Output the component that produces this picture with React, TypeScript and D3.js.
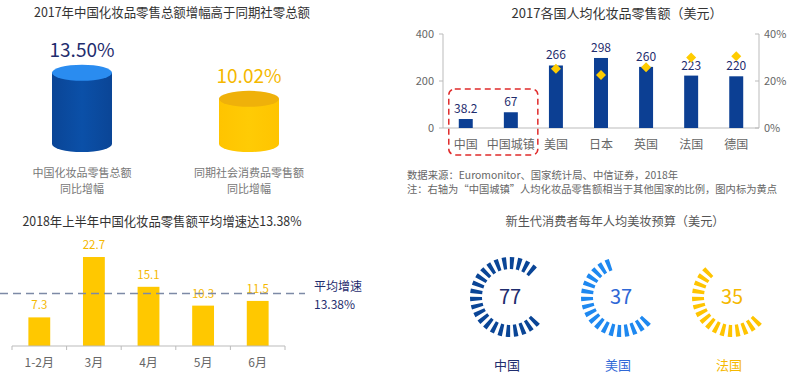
import React from "react";
import * as d3 from "d3";

// panel 1: growth comparison (cylinders)
const growthLabels = [["中国化妆品零售总额", "同比增幅"], ["同期社会消费品零售额", "同比增幅"]];
const growthValues = [13.5, 10.02];

// panel 2: per-capita retail by country
const countries = ["中国", "中国城镇", "美国", "日本", "英国", "法国", "德国"];
const perCapita = [38.2, 67, 266, 298, 260, 223, 220];
const ratioCountries = ["美国", "日本", "英国", "法国", "德国"];
const ratioValues = [0.252, 0.225, 0.258, 0.3, 0.305];
const leftTicks = [0, 200, 400];
const rightTicks = [0, 0.2, 0.4];

// panel 3: monthly growth 2018H1
const months = ["1-2月", "3月", "4月", "5月", "6月"];
const monthGrowth = [7.3, 22.7, 15.1, 10.3, 11.5];
const avgGrowth = 13.38;

// panel 4: beauty budget rings
const budgetCountries = ["中国", "美国", "法国"];
const budgetValues = [77, 37, 35];
const budgetTicks = [23, 18, 16];

const FONT = "'Noto Sans CJK SC', 'Noto Sans', sans-serif";
const NAVY = "#1f2d6e";
const GOLD = "#f5b800";

const Cylinders = () => {
  const x = d3.scalePoint<number>().domain([0, 1]).range([82, 249]);
  const h = d3.scaleLinear().domain([4, 14]).range([0, 75]);
  const baseY = 144;
  const rx = 30;
  const ry = 8;
  const sides = ["url(#blueSide)", "url(#goldSide)"];
  const tops = ["#2a8cf0", "#efb10a"];
  const valColors = [NAVY, GOLD];
  return (
    <g>
      <defs>
        <linearGradient id="blueSide" x1="0" x2="1" y1="0" y2="0">
          <stop offset="0" stopColor="#0a4596" />
          <stop offset="0.5" stopColor="#0b50a8" />
          <stop offset="1" stopColor="#0a4596" />
        </linearGradient>
        <linearGradient id="goldSide" x1="0" x2="1" y1="0" y2="0">
          <stop offset="0" stopColor="#ffc400" />
          <stop offset="0.5" stopColor="#ffcb05" />
          <stop offset="1" stopColor="#ffc400" />
        </linearGradient>
      </defs>
      {growthValues.map((v, i) => {
        const cx = x(i)!;
        const topY = baseY - h(v);
        const side = `M${cx - rx},${topY} L${cx - rx},${baseY} A${rx},${ry} 0 0 0 ${cx + rx},${baseY} L${cx + rx},${topY} Z`;
        return (
          <g key={i}>
            <path d={side} fill={sides[i]} />
            <ellipse cx={cx} cy={topY} rx={rx} ry={ry} fill={tops[i]} />
            <text x={cx} y={topY - ry - 8} textAnchor="middle" fontSize={19} fill={valColors[i]}>
              {v.toFixed(2)}%
            </text>
            <text x={cx} y={177} textAnchor="middle" fontSize={11} fill="#777">
              {growthLabels[i].map((l, j) => (
                <tspan key={j} x={cx} dy={j === 0 ? 0 : 16}>
                  {l}
                </tspan>
              ))}
            </text>
          </g>
        );
      })}
      <text x={172} y={17} textAnchor="middle" fontSize={13} fill="#333" textLength={276} lengthAdjust="spacingAndGlyphs">
        2017年中国化妆品零售总额增幅高于同期社零总额
      </text>
    </g>
  );
};

const PerCapita = () => {
  const x = d3.scaleBand().domain(countries).range([443, 759]).paddingInner(0.69).paddingOuter(0.35);
  const y = d3.scaleLinear().domain([0, 400]).range([128, 34]);
  const y2 = d3.scaleLinear().domain([0, 0.4]).range([128, 34]);
  const diamond = d3.symbol(d3.symbolSquare, 50)()!;
  const boxL = x("中国")! - 10;
  const boxR = x("中国城镇")! + x.bandwidth() + 20;
  return (
    <g>
      <text x={617} y={18} textAnchor="middle" fontSize={13} fill="#333">
        2017各国人均化妆品零售额（美元）
      </text>
      <line x1={443} x2={443} y1={34} y2={128} stroke="#bbb" />
      <line x1={759} x2={759} y1={34} y2={128} stroke="#bbb" />
      <line x1={443} x2={759} y1={128} y2={128} stroke="#bbb" />
      {leftTicks.map((t) => (
        <g key={t}>
          <line x1={439} x2={443} y1={y(t)} y2={y(t)} stroke="#bbb" />
          <text x={434} y={y(t) + 4} textAnchor="end" fontSize={11} fill="#666">
            {t}
          </text>
        </g>
      ))}
      {rightTicks.map((t) => (
        <g key={t}>
          <line x1={755} x2={759} y1={y2(t)} y2={y2(t)} stroke="#bbb" />
          <text x={764} y={y2(t) + 4} fontSize={11} fill="#666">
            {d3.format(".0%")(t)}
          </text>
        </g>
      ))}
      {countries.map((c, i) => {
        const bx = x(c)!;
        const cx = bx + x.bandwidth() / 2;
        return (
          <g key={c}>
            <rect x={bx} y={y(perCapita[i])} width={x.bandwidth()} height={128 - y(perCapita[i])} fill="#0c3f93" />
            <text x={cx} y={y(perCapita[i]) - 6} textAnchor="middle" fontSize={12} fill={NAVY}>
              {perCapita[i]}
            </text>
            <text x={cx} y={149} textAnchor="middle" fontSize={12} fill="#666">
              {c}
            </text>
          </g>
        );
      })}
      {ratioCountries.map((c, i) => (
        <path
          key={c}
          d={diamond}
          transform={`translate(${x(c)! + x.bandwidth() / 2},${y2(ratioValues[i])}) rotate(45)`}
          fill="#ffcc00"
        />
      ))}
      <rect x={boxL} y={89} width={boxR - boxL} height={66} rx={6} fill="none" stroke="#e02b2b" strokeWidth={1.5} strokeDasharray="6,4" />
      <text x={407} y={179} fontSize={10.5} fill="#666" textLength={271} lengthAdjust="spacingAndGlyphs">
        数据来源：Euromonitor、国家统计局、中信证券，2018年
      </text>
      <text x={407} y={193} fontSize={10.5} fill="#666" textLength={370} lengthAdjust="spacingAndGlyphs">
        注：右轴为“中国城镇”人均化妆品零售额相当于其他国家的比例，图内标为黄点
      </text>
    </g>
  );
};

const Monthly = () => {
  const x = d3.scaleBand().domain(months).range([12, 285]).paddingInner(0.6).paddingOuter(0.3);
  const y = d3.scaleLinear().domain([0, 25]).range([346, 248]);
  const edges = d3.range(months.length + 1).map((i) => 12 + (i * (285 - 12)) / months.length);
  return (
    <g>
      <text x={162} y={226} textAnchor="middle" fontSize={13} fill="#333" textLength={279} lengthAdjust="spacingAndGlyphs">
        2018年上半年中国化妆品零售额平均增速达13.38%
      </text>
      {months.map((m, i) => {
        const cx = x(m)! + x.bandwidth() / 2;
        return (
          <g key={m}>
            <rect x={x(m)} y={y(monthGrowth[i])} width={x.bandwidth()} height={346 - y(monthGrowth[i])} fill="#ffc800" />
            <text x={cx} y={y(monthGrowth[i]) - 8} textAnchor="middle" fontSize={11.5} fill={GOLD}>
              {monthGrowth[i]}
            </text>
            <text x={cx} y={367} textAnchor="middle" fontSize={12} fill="#666">
              {m}
            </text>
          </g>
        );
      })}
      <line x1={12} x2={285} y1={346} y2={346} stroke="#bbb" />
      {edges.map((e, i) => (
        <line key={i} x1={e} x2={e} y1={346} y2={350} stroke="#bbb" />
      ))}
      <line x1={0} x2={305} y1={y(avgGrowth)} y2={y(avgGrowth)} stroke="#7d8aa6" strokeWidth={1.5} strokeDasharray="8,5" />
      <text x={314} y={291} fontSize={12} fill={NAVY}>
        <tspan x={314}>平均增速</tspan>
        <tspan x={314} dy={17.5}>
          {avgGrowth}%
        </tspan>
      </text>
    </g>
  );
};

const Rings = () => {
  const x = d3.scalePoint().domain(budgetCountries).range([510, 732]);
  const colors = ["#0a4596", "#1e88f0", "#ffc400"];
  const textColors = [NAVY, "#2f68d6", GOLD];
  const pitch = (Math.PI * 2) / 30;
  const start = (135 / 180) * Math.PI;
  const arc = d3.arc<{ a: number }>()
    .innerRadius(28)
    .outerRadius(40)
    .startAngle((d) => d.a - pitch * 0.27)
    .endAngle((d) => d.a + pitch * 0.27);
  return (
    <g>
      <text x={615} y={226} textAnchor="middle" fontSize={12.5} fill="#555" textLength={219} lengthAdjust="spacingAndGlyphs">
        新生代消费者每年人均美妆预算（美元）
      </text>
      {budgetCountries.map((c, i) => {
        const cx = x(c)!;
        const segs = d3.range(budgetTicks[i]).map((k) => ({ a: start + k * pitch }));
        return (
          <g key={c}>
            <g transform={`translate(${cx},297)`}>
              {segs.map((s, k) => (
                <path key={k} d={arc(s)!} fill={colors[i]} />
              ))}
              <text y={7} textAnchor="middle" fontSize={20} fill={textColors[i]}>
                {budgetValues[i]}
              </text>
            </g>
            <text x={cx - 3} y={370} textAnchor="middle" fontSize={13} fill={textColors[i]}>
              {c}
            </text>
          </g>
        );
      })}
    </g>
  );
};

export default function App() {
  return (
    <svg
      width={800}
      height={384}
      style={{ position: "absolute", left: 0, top: 0, background: "#fff" }}
      fontFamily={FONT}
    >
      <Cylinders />
      <PerCapita />
      <Monthly />
      <Rings />
    </svg>
  );
}
